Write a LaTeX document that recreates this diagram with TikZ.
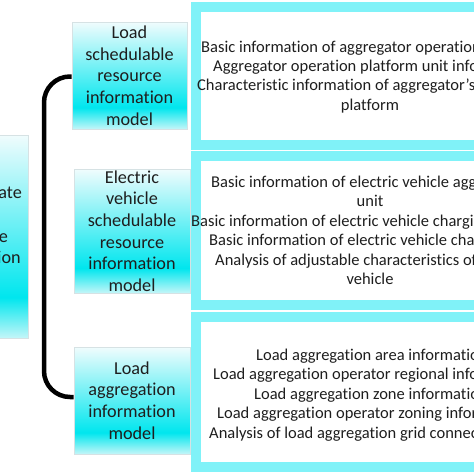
\documentclass[tikz,border=0pt]{standalone}
\usepackage{fontspec}
\setmainfont{Carlito}[Ligatures=NoCommon]
\definecolor{mbot}{HTML}{C4F6F8}
\definecolor{mcy}{HTML}{00E6EE}
\definecolor{mtop}{HTML}{F0FCFD}
\definecolor{rcyan}{HTML}{80F2F8}
\definecolor{mgray}{HTML}{D6E2E4}
\definecolor{ink}{HTML}{1E1E1E}
\pgfdeclareverticalshading{mshade}{100bp}{color(0bp)=(mbot); color(25bp)=(mbot); color(35bp)=(mcy); color(75bp)=(mtop); color(100bp)=(mtop)}
\tikzset{
  mbox/.style={shading=mshade, draw=mgray, line width=0.8pt, align=center, text=ink,
    font=\fontsize{18.2}{21.7}\selectfont, inner sep=0pt},
  rbox/.style={draw=rcyan, fill=white, line width=10pt, inner sep=0pt},
  rtxt/.style={font=\fontsize{16.5}{19.5}\selectfont, text=ink, inner sep=0pt, anchor=base west},
  rmid/.style={font=\fontsize{16.5}{19.5}\selectfont, text=ink, inner sep=0pt, anchor=base},
  ltxt/.style={font=\fontsize{18.2}{21.7}\selectfont, text=ink, inner sep=0pt, anchor=base east},
  conn/.style={line width=4.5pt, rounded corners=26pt},
}
\begin{document}
\begin{tikzpicture}[x=1pt, y=-1pt]
\useasboundingbox (0,0) rectangle (474,474);
\clip (0,0) rectangle (474,474);
\fill[white] (0,0) rectangle (474,474);

% right boxes
\node[rbox, minimum width=346pt, minimum height=138pt] (R1) at (369,76) {};
\node[rbox, minimum width=346pt, minimum height=149pt] (R2) at (369,230.5) {};
\node[rbox, minimum width=346pt, minimum height=150pt] (R3) at (369,392) {};

% texts of box 1
\node[rtxt] (r1a) at (201,52.3) {Basic information of aggregator operation platform};
\node[rtxt] (r1b) at (213,71.6) {Aggregator operation platform unit information};
\node[rtxt] (r1c) at (197,90.9) {Characteristic information of aggregator's operation};
\node[rmid] (r1d) at (370,110.2) {platform};

% texts of box 2
\node[rtxt] (r2a) at (211,187.3) {Basic information of electric vehicle aggregation};
\node[rmid] (r2b) at (370,206.8) {unit};
\node[rtxt] (r2c) at (191,226.3) {Basic information of electric vehicle charging station};
\node[rtxt] (r2d) at (209,245.8) {Basic information of electric vehicle charging pile};
\node[rtxt] (r2e) at (215,265.3) {Analysis of adjustable characteristics of electric};
\node[rmid] (r2f) at (370,284.8) {vehicle};

% texts of box 3
\node[rtxt] (r3a) at (256,360.3) {Load aggregation area information};
\node[rtxt] (r3b) at (213,379.8) {Load aggregation operator regional information};
\node[rtxt] (r3c) at (254,399.3) {Load aggregation zone information};
\node[rtxt] (r3d) at (217,418.8) {Load aggregation operator zoning information};
\node[rtxt] (r3e) at (209,438.3) {Analysis of load aggregation grid connection};

% left box
\node[mbox, minimum width=102pt, minimum height=203pt] (L) at (-23,236.5) {};
\node[ltxt] (la) at (22,198.8) {Aggregate};
\node[ltxt] (lb) at (8,242.8) {resource};
\node[ltxt] (lc) at (21,263.8) {information};

% middle boxes
\node[mbox, minimum width=115pt, minimum height=107pt] (A) at (129.5,75.5)
  {Load\\schedulable\\resource\\information\\model};
\node[mbox, minimum width=116pt, minimum height=124pt] (B) at (132,231)
  {Electric\\vehicle\\schedulable\\resource\\information\\model};
\node[mbox, minimum width=116pt, minimum height=107pt] (C) at (132,400.5)
  {Load\\aggregation\\information\\model};

% bracket connector
\coordinate (spine) at (44,236);
\draw[conn] ([yshift=-1pt]A.west) -| (spine) |- ([yshift=3.5pt]C.west);
\end{tikzpicture}
\end{document}
